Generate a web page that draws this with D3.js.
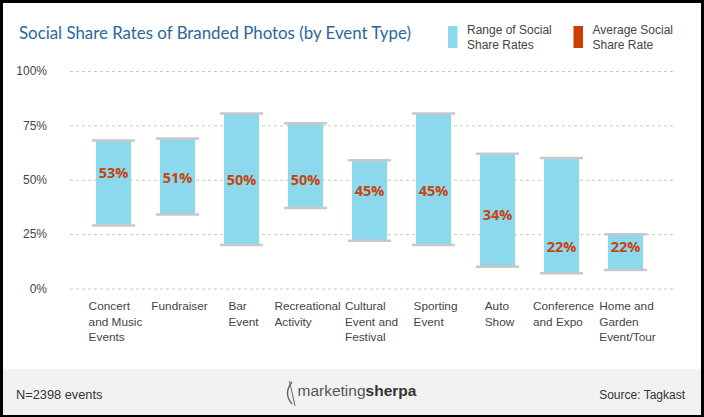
<!DOCTYPE html>
<html>
<head>
<meta charset="utf-8">
<script src="https://cdn.jsdelivr.net/npm/d3@7"></script>
<style>
  body { margin: 0; background: #000; }
  svg { display: block; }
  .tick text { font-family: "Liberation Sans", Arial, sans-serif; fill: #444; }
</style>
</head>
<body>
<div id="chart"></div>
<script>
// data
const categories = [
  "Concert\nand Music\nEvents", "Fundraiser", "Bar\nEvent", "Recreational\nActivity",
  "Cultural\nEvent and\nFestival", "Sporting\nEvent", "Auto\nShow",
  "Conference\nand Expo", "Home and\nGarden\nEvent/Tour"
];
const lowRate  = [29, 34, 20, 37, 22, 20, 10, 7, 8.5];
const highRate = [68, 69, 80.5, 76, 59, 80.5, 62, 60, 25];
const avgRate  = [53, 51, 50, 50, 45, 45, 34, 22, 22];
const yTicks = [0, 25, 50, 75, 100];
const legendLabels = ["Range of Social\nShare Rates", "Average Social\nShare Rate"];

const W = 704, H = 417;
const blue = '#8cd8ec', red = '#cc3d00', capGray = '#c8c8c8';

let svg = d3.select('#chart').append('svg').attr('width', W).attr('height', H);
svg.append('rect').attr('width', W).attr('height', H).attr('fill', '#000');
svg.append('rect').attr('x', 3).attr('y', 3).attr('width', W - 6).attr('height', 412).attr('fill', '#fff');
svg.append('rect').attr('x', 3).attr('y', 369).attr('width', W - 6).attr('height', 46).attr('fill', '#f2f2f2');

// title
let title = svg.append('text')
  .attr('x', 19).attr('y', 38.5)
  .attr('font-family', 'Lato, "Liberation Sans", sans-serif')
  .attr('font-size', 18).attr('fill', '#2a679e')
  .text('Social Share Rates of Branded Photos (by Event Type)');
title.attr('textLength', 392).attr('lengthAdjust', 'spacingAndGlyphs');

// legend
const legendX = [448, 573.5];
[blue, red].forEach((c, i) => {
  svg.append('rect').attr('x', legendX[i]).attr('y', 26).attr('width', 9.5).attr('height', 22).attr('fill', c);
  let t = svg.append('text')
    .attr('font-family', '"Liberation Sans", Arial, sans-serif')
    .attr('font-size', 12).attr('fill', '#444');
  legendLabels[i].split('\n').forEach((s, j) => {
    t.append('tspan').attr('x', legendX[i] + 19).attr('y', 33.5 + j * 15.7).text(s);
  });
});

// scales
const x = d3.scaleBand().domain(categories).range([81.5, 657.5])
  .paddingInner(0.45).paddingOuter(0.225);
const y = d3.scaleLinear().domain([0, 100]).range([288.5, 71]);

// y axis with dashed grid
let gy = svg.append('g').attr('transform', 'translate(70,0)')
  .call(d3.axisLeft(y).tickValues(yTicks).tickFormat(d => d + '%')
    .tickSize(-603).tickPadding(23));
gy.select('.domain').remove();
gy.selectAll('.tick line').attr('stroke', '#c8c8c8').attr('stroke-dasharray', '3,3');
gy.selectAll('.tick text').attr('font-size', 12);

// x axis labels: multi-line, left aligned block centred on bar
let gx = svg.append('g').attr('transform', 'translate(0,288.5)')
  .call(d3.axisBottom(x).tickSize(0).tickPadding(0));
gx.select('.domain').remove();
gx.selectAll('.tick text').each(function(d) {
  let t = d3.select(this).text(null).attr('font-size', 11.8)
    .attr('text-anchor', 'start').attr('dy', null).attr('y', 0);
  let spans = d.split('\n').map((s, j) =>
    t.append('tspan').attr('y', 21.5 + j * 15.5).text(s));
  let w = d3.max(spans, s => s.node().getComputedTextLength());
  spans.forEach(s => s.attr('x', -w / 2 + 2));
});

// range bars
let bars = svg.append('g').selectAll('g.bar').data(categories).enter()
  .append('g').attr('class', 'bar');
bars.append('rect')
  .attr('x', d => x(d))
  .attr('y', (d, i) => y(highRate[i]))
  .attr('width', x.bandwidth())
  .attr('height', (d, i) => y(lowRate[i]) - y(highRate[i]))
  .attr('fill', blue);
[highRate, lowRate].forEach(arr => {
  bars.append('line')
    .attr('x1', d => x(d) - 4).attr('x2', d => x(d) + x.bandwidth() + 4)
    .attr('y1', (d, i) => y(arr[i])).attr('y2', (d, i) => y(arr[i]))
    .attr('stroke', capGray).attr('stroke-width', 2.5);
});

// average labels: kept inside the bar, equal values share a line
let labelAt = avgRate.map((v, i) => Math.min(v, highRate[i] - 6));
labelAt = labelAt.map((v, i) =>
  d3.min(labelAt.filter((u, j) => avgRate[j] === avgRate[i])));
bars.append('text')
  .attr('x', d => x(d) + x.bandwidth() / 2)
  .attr('y', (d, i) => y(labelAt[i]))
  .attr('dy', '0.36em')
  .attr('text-anchor', 'middle')
  .attr('font-family', '"Open Sans", sans-serif').attr('font-weight', 700)
  .attr('font-size', 14.5).attr('fill', '#c8430e')
  .text((d, i) => avgRate[i] + '%');

// footer
svg.append('text').attr('x', 16).attr('y', 398.5)
  .attr('font-family', '"Liberation Sans", Arial, sans-serif')
  .attr('font-size', 12.8).attr('fill', '#333').text('N=2398 events');
svg.append('text').attr('x', 685).attr('y', 398.5).attr('text-anchor', 'end')
  .attr('font-family', '"Liberation Sans", Arial, sans-serif')
  .attr('font-size', 12).attr('fill', '#333').text('Source: Tagkast');

// logo
let logo = svg.append('g').attr('fill', 'none').attr('stroke', '#666');
logo.append('path').attr('d', 'M292,382 Q283,393 292,404').attr('stroke-width', 1.4);
logo.append('path').attr('d', 'M289.5,381 L295,406').attr('stroke-width', 1);
let lt = svg.append('text').attr('x', 297.5).attr('y', 396)
  .attr('font-family', '"Liberation Sans", Arial, sans-serif').attr('font-size', 15.5);
lt.append('tspan').attr('fill', '#555').text('marketing');
lt.append('tspan').attr('fill', '#333').attr('font-weight', 700).text('sherpa');
</script>
</body>
</html>
